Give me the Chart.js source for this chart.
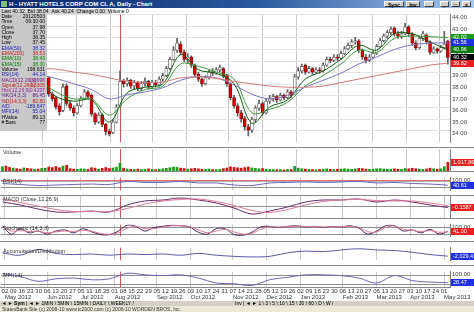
<!DOCTYPE html>
<html>
<head>
<meta charset="utf-8">
<script src="https://cdn.jsdelivr.net/npm/chart.js@4.4.0/dist/chart.umd.min.js"></script>
<style>
html, body { margin:0; padding:0; width:474px; height:312px; overflow:hidden; background:#fff; font-family:"Liberation Sans", Arial, sans-serif; }
#titlebar { position:absolute; left:0; top:0; width:474px; height:8px; background:linear-gradient(to right,#0a246a,#2a5aa0 55%,#a6caf0); color:#fff; font:bold 6px "Liberation Sans"; line-height:8px; }
#titlebar .ico { position:absolute; left:1px; top:1px; width:6px; height:6px; background:#7fbf7f; }
#titlebar .txt { position:absolute; left:9px; top:0; }
#titlebar .btn { position:absolute; top:1px; height:6px; background:#d4d0c8; color:#000; font:bold 5px "Liberation Sans"; line-height:6px; text-align:center; border:1px solid #fff; border-right-color:#404040; border-bottom-color:#404040; box-sizing:border-box; }
.pnl { position:absolute; left:0; width:474px; }
.pnl canvas { display:block; }
.sep { position:absolute; left:0; width:474px; height:1px; background:#888; }
#hdr { position:absolute; left:0; top:9px; width:112px; height:5px; background:#d0d0d0; font:5px "Liberation Sans"; line-height:5px; color:#000; white-space:nowrap; }
#info { position:absolute; left:0; top:14px; width:47px; height:117px; background:#c8c8c8; font:5px "Liberation Sans"; color:#000; }
#info div { height:5.3px; line-height:5.3px; position:relative; white-space:nowrap; }
#info span { position:absolute; right:2px; }
#tabs { position:absolute; left:0; top:301px; width:474px; height:5px; background:#d4d0c8; font:5px "Liberation Sans"; line-height:5px; color:#000; white-space:nowrap; }
#status { position:absolute; left:0; top:306px; width:474px; height:6px; background:#ece9d8; font:5px "Liberation Sans"; line-height:6px; color:#333; padding-left:2px; }
</style>
</head>
<body>
<div id="titlebar"><div class="ico"></div><div class="txt">H - HYATT HOTELS CORP COM CL A, Daily - Chart</div>
  <div class="btn" style="left:384px;width:20px">Sync</div>
  <div class="btn" style="left:406px;width:14px">Inv</div>
  <div class="btn" style="left:424px;width:10px"></div>
  <div class="btn" style="left:440px;width:9px">_</div>
  <div class="btn" style="left:451px;width:9px">□</div>
  <div class="btn" style="left:462px;width:9px">×</div>
</div>

<div class="pnl" style="top:9px"><canvas id="cMain" width="474" height="139"></canvas></div>
<div class="pnl" style="top:148px"><canvas id="cVol" width="474" height="24"></canvas></div>
<div class="pnl" style="top:172px"><canvas id="cRsi" width="474" height="24"></canvas></div>
<div class="pnl" style="top:196px"><canvas id="cMacd" width="474" height="23"></canvas></div>
<div class="pnl" style="top:219px"><canvas id="cStoch" width="474" height="23"></canvas></div>
<div class="pnl" style="top:242px"><canvas id="cAd" width="474" height="24"></canvas></div>
<div class="pnl" style="top:266px"><canvas id="cMfi" width="474" height="35"></canvas></div>

<div class="sep" style="top:147px"></div>
<div class="sep" style="top:171px"></div>
<div class="sep" style="top:195px"></div>
<div class="sep" style="top:218px"></div>
<div class="sep" style="top:241px"></div>
<div class="sep" style="top:265px"></div>
<div class="sep" style="top:287px;width:450px"></div>

<div id="hdr">&nbsp;Last 40.32 &nbsp;Bid 38.04 &nbsp;Ask 40.24 &nbsp;Change 0.00 &nbsp;Volume 0</div>
<div id="info">
  <div>&nbsp;Date<span>20120503</span></div>
  <div>&nbsp;Time<span>09:30:00</span></div>
  <div>&nbsp;Open<span>37.98</span></div>
  <div>&nbsp;Close<span>37.70</span></div>
  <div>&nbsp;High<span>38.35</span></div>
  <div>&nbsp;Low<span>37.45</span></div>
  <div style="color:#2020c0">&nbsp;EMA(50)<span>38.32</span></div>
  <div style="color:#c02020">&nbsp;EMA(200)<span>38.53</span></div>
  <div style="color:#008000">&nbsp;EMA(10)<span>38.43</span></div>
  <div style="color:#008000">&nbsp;EMA(15)<span>38.30</span></div>
  <div>&nbsp;Volume<span>198,631</span></div>
  <div style="color:#2020c0">&nbsp;RSI(14)<span>44.14</span></div>
  <div style="color:#802080">&nbsp;MACD(12,26,9)<span>0.0996</span></div>
  <div style="color:#c02020">&nbsp;Signal(12,26,9)<span>-0.3305</span></div>
  <div style="color:#a020a0">&nbsp;Hist(12,26,9)<span>-0.4297</span></div>
  <div style="color:#602080">&nbsp;%K(14,3,3)<span>86.45</span></div>
  <div style="color:#c02020">&nbsp;%D(14,3,3)<span>82.80</span></div>
  <div style="color:#2020c0">&nbsp;A/D<span>-189,647</span></div>
  <div style="color:#2020c0">&nbsp;MFI(14)<span>55.04</span></div>
  <div>&nbsp;HValue<span>89.13</span></div>
  <div>&nbsp;# Bars<span>77</span></div>
</div>

<div id="tabs">&nbsp;◄ ► <b>Sym</b> | ◄ ► 1MIN \ 5MIN \ 15MIN \ DAILY \ WEEKLY /
  <span style="position:absolute;left:235px">Inv | ◄ ► 1 \ 3 \ 5 \ 10 \ 15 \ 30 \ 60 \ D \ W /</span></div>
<div id="status">StatesBank Site (c) 2008-10 www.tc2000.com (c) 2006-10 WORDEN BROS, Inc.</div>

<script>
// daily bars (2 sessions per bar), May 2012 - May 2013
const openP = [38.75,39.05,38.75,38.45,38.85,38.55,38.25,38.55,38.15,37.95,38.35,38.05,38.35,
  38.55,37.15,36.85,36.15,35.75,37.85,36.35,35.95,35.55,36.15,36.75,37.35,37.05,
  35.45,34.75,35.35,34.55,33.95,33.85,34.75,36.15,38.25,38.05,38.35,37.85,38.15,
  37.65,38.05,38.25,37.75,38.15,37.95,38.45,38.75,39.35,40.15,40.95,41.45,40.75,
  40.15,40.35,39.65,38.85,38.45,38.05,38.55,39.05,38.95,39.25,39.35,38.75,38.05,
  36.85,36.15,35.55,35.05,34.35,34.05,34.95,35.95,36.35,35.55,36.55,36.75,36.95,
  36.65,37.05,36.85,37.35,37.15,38.65,39.15,39.65,39.05,39.35,39.05,39.25,39.15,
  39.65,40.15,40.05,40.35,40.25,40.65,41.05,41.35,41.65,41.75,40.95,40.35,40.05,
  40.35,40.65,41.25,41.75,42.15,42.45,42.85,42.35,42.15,42.35,42.95,42.35,41.55,
  41.15,41.95,42.25,41.65,40.75,41.05,40.85,41.15,41.73];
const closeP = [39.05,38.75,38.45,38.85,38.55,38.25,38.55,38.15,37.95,38.35,38.05,38.35,38.65,
  37.15,36.75,36.05,35.65,37.75,36.35,35.95,35.55,36.15,36.75,37.35,36.95,35.45,
  34.75,35.35,34.55,33.95,33.75,34.75,36.05,38.25,38.05,38.35,37.85,38.15,37.65,
  38.05,38.25,37.75,38.15,37.95,38.45,38.75,39.35,40.15,40.95,41.55,40.75,40.15,
  40.35,39.65,38.85,38.45,38.05,38.55,39.05,38.95,39.25,39.45,38.75,38.05,36.85,
  36.15,35.55,35.05,34.35,34.05,34.95,35.95,36.35,35.55,36.55,36.75,36.95,36.65,
  37.05,36.85,37.35,37.05,38.65,39.15,39.55,39.05,39.35,39.05,39.25,39.15,39.65,
  40.15,40.05,40.35,40.25,40.65,41.05,41.35,41.65,41.75,40.95,40.35,40.05,40.35,
  40.65,41.25,41.75,42.15,42.45,42.75,42.35,42.15,42.35,42.95,42.35,41.55,41.15,
  41.95,42.35,41.65,40.75,41.05,40.85,41.15,41.45,40.32];
const highP = [39.25,39.25,38.85,39.05,38.95,38.65,38.75,38.65,38.35,38.55,38.45,38.65,38.85,
  38.65,37.35,36.95,36.35,38.05,38.05,36.55,36.15,36.35,36.95,37.55,37.45,37.15,
  35.55,35.55,35.45,34.65,34.15,34.95,36.25,39.15,38.45,38.55,38.45,38.35,38.25,
  38.25,38.55,38.35,38.35,38.35,38.65,38.95,39.55,40.35,41.25,41.95,41.65,40.95,
  40.65,40.45,39.75,39.05,38.55,38.75,39.25,39.35,39.45,39.65,39.45,38.85,38.15,
  37.05,36.35,35.75,35.25,34.55,35.15,36.15,36.65,36.45,36.75,37.05,37.15,37.05,
  37.25,37.15,37.55,37.45,38.85,39.45,39.75,39.75,39.55,39.45,39.45,39.45,39.85,
  40.35,40.35,40.55,40.55,40.85,41.25,41.55,41.85,42.05,41.85,41.05,40.55,40.55,
  40.85,41.45,41.95,42.35,42.65,42.95,42.95,42.55,42.55,43.25,43.05,42.45,41.75,
  42.15,42.55,42.35,41.75,41.25,41.15,41.35,42.55,41.80];
const lowP = [38.55,38.55,38.25,38.35,38.35,38.05,38.15,37.95,37.75,37.85,37.85,37.95,38.15,
  36.95,36.55,35.85,35.35,35.65,36.15,35.75,35.25,35.45,36.05,36.65,36.75,35.25,
  34.55,34.65,34.35,33.65,33.55,33.75,34.65,36.05,37.75,37.85,37.65,37.55,37.45,
  37.45,37.85,37.55,37.65,37.75,37.85,38.25,38.65,39.25,40.05,40.75,40.55,39.95,
  39.85,39.45,38.65,38.25,37.85,37.95,38.45,38.75,38.85,39.05,38.55,37.85,36.65,
  35.95,35.25,34.75,34.05,33.55,33.85,34.75,35.75,35.35,35.45,36.35,36.55,36.45,
  36.55,36.65,36.75,36.85,37.15,38.45,38.95,38.85,38.95,38.85,38.95,38.95,39.05,
  39.55,39.85,39.95,40.05,40.15,40.55,40.95,41.15,41.45,40.75,40.15,39.85,39.95,
  40.25,40.55,41.15,41.65,41.95,42.25,42.15,41.95,41.95,42.25,42.15,41.35,40.95,
  41.05,41.75,41.45,40.55,40.65,40.65,40.75,41.05,39.73];
const volumeM = [0.55,0.62,0.48,0.40,0.35,0.30,0.42,0.38,0.33,0.29,0.31,0.36,0.40,
  0.52,0.46,0.58,0.44,0.62,0.70,0.35,0.30,0.28,0.33,0.31,0.27,0.45,
  0.41,0.30,0.38,0.47,0.36,0.42,0.50,0.92,0.40,0.31,0.28,0.26,0.30,
  0.25,0.29,0.33,0.27,0.24,0.30,0.34,0.38,0.45,0.52,0.48,0.40,0.36,
  0.30,0.34,0.38,0.33,0.29,0.27,0.31,0.26,0.24,0.28,0.35,0.42,0.55,
  0.48,0.44,0.40,0.46,0.52,0.43,0.38,0.33,0.36,0.30,0.27,0.25,0.24,
  0.26,0.22,0.28,0.25,0.58,0.40,0.34,0.30,0.28,0.26,0.24,0.27,0.30,
  0.33,0.28,0.26,0.29,0.31,0.34,0.30,0.28,0.32,0.38,0.36,0.30,0.27,
  0.29,0.33,0.35,0.31,0.28,0.30,0.34,0.29,0.27,0.36,0.33,0.39,0.35,
  0.30,0.28,0.32,0.40,0.34,0.30,0.33,0.55,1.017862];

// moving averages, one point every 5 bars
const maStep = 5;
const ema200 = [39.39,39.37,39.35,39.31,39.05,38.85,38.55,38.25,38.15,38.2,38.55,38.65,38.51,
  38.25,38.05,37.85,37.75,37.75,37.85,38.15,38.45,38.75,39.05,39.35,39.65,39.82];
const ema50 = [39.15,39.05,38.85,38.5,38.05,37.55,36.75,37.1,37.35,37.7,38.35,38.65,38.55,
  37.95,37.15,36.75,37.05,37.75,38.35,38.95,39.75,40.35,41.0,41.4,41.55,41.56];
const emaFast = [38.55,38.55,38.25,36.95,36.55,36.65,34.75,37.25,37.75,38.05,40.55,39.25,38.95,
  38.05,34.65,36.05,36.65,38.45,39.15,40.15,41.35,40.95,42.35,42.35,41.65,40.96];
const emaSlow = [38.55,38.55,38.35,37.35,36.75,36.75,35.35,36.75,37.55,37.85,39.75,39.55,39.05,
  38.45,35.55,35.85,36.45,37.85,38.75,39.75,40.95,40.75,41.95,42.15,42.1,42.02];

// indicators
const indStep = 5;
const rsi = [54,46,38,42,46,50,46,70,62,62,70,58,58,42,38,58,62,66,62,66,70,58,62,54,50,40.61];
const macd = [0.4,0.1,-0.3,-0.6,-0.6,-0.5,-0.6,0.1,0.5,0.6,0.8,0.6,0.3,-0.2,-0.8,-0.5,-0.1,0.4,
  0.6,0.6,0.7,0.4,0.6,0.4,0.1,-0.1587];
const macdSignal = [0.7,0.35,0.0,-0.35,-0.55,-0.55,-0.55,-0.25,0.2,0.5,0.65,0.7,0.45,0.05,-0.45,
  -0.65,-0.35,0.1,0.45,0.6,0.65,0.55,0.5,0.5,0.3,0.02];
const stochStep = 2.5;
const stochK = [90,20,65,30,45,20,45,55,30,65,40,15,15,45,95,85,45,75,85,95,90,80,35,20,65,
  65,15,10,35,80,85,75,85,90,80,85,75,85,80,90,70,20,45,90,90,45,55,30,60,20,41];
const stochD = [85,45,50,40,45,30,38,45,42,50,45,25,18,30,70,85,65,65,78,90,90,83,55,32,45,
  60,38,20,25,60,80,80,82,86,84,83,80,82,82,85,78,40,38,75,88,60,52,40,50,35,38];
const accDistM = [2.6,-0.7,7.5,1.8,0.2,1.0,-0.7,1.0,0.2,1.0,-0.7,1.8,-0.7,-2.3,-3.1,-2.3,2.6,
  5.1,4.3,6.7,8.4,6.7,5.9,3.4,0.2,-2.029411];
const mfi = [89,68,37,53,58,47,53,89,79,74,79,58,26,21,10,47,63,79,79,74,58,26,74,42,32,28.47];

// x axis
const weekDays = ['02','09','16','23','30','06','13','20','27','05','11','18','25',
  '01','08','15','22','29','05','12','19','26','03','10','17','24','31',
  '07','14','21','28','05','12','19','26','02','09','16','23','30',
  '06','13','20','27','06','13','20','27','03','10','17','24','01'];
const monthNames = ['May 2012','Jun 2012','Jul 2012','Aug 2012','Sep 2012','Oct 2012','Nov 2012',
  'Dec 2012','Jan 2013','Feb 2013','Mar 2013','Apr 2013','May 2013'];
const monthStartWeeks = [0,5,9,13,18,22,27,31,35,40,44,48,52];
const cursorBar = 33;

Chart.defaults.font.family = '"Liberation Sans", Arial, sans-serif';
Chart.defaults.animation = false;

const weekPos = w => 0.7 + 2.37 * w;
const fmt2 = v => Number(v).toFixed(2);

function xScale(showLabels) {
  const sc = {
    type: 'linear', min: -0.4, max: 125.6, offset: false,
    afterBuildTicks: s => { s.ticks = weekDays.map((d, i) => ({ value: weekPos(i) })); },
    grid: { color: c => monthStartWeeks.includes(c.index) ? '#c8c8c8' : 'rgba(0,0,0,0)', drawTicks: false },
    border: { display: false },
    ticks: { display: showLabels, autoSkip: false, maxRotation: 0, padding: 1, color: '#333',
      font: { size: 6, lineHeight: 1 }, callback: (v, i) => weekDays[i] }
  };
  if (showLabels) sc.afterFit = s => { s.height = 7; };
  return sc;
}

function yScale(min, max, tickVals, fmt, gridColor) {
  return {
    position: 'right', min, max,
    afterFit: s => { s.width = 24; },
    afterBuildTicks: s => { s.ticks = tickVals.map(v => ({ value: v })); },
    grid: { display: !!gridColor, color: gridColor || 'rgba(0,0,0,0)', drawTicks: false },
    border: { display: true, color: '#808080' },
    ticks: { padding: 2, labelOffset: 3, color: '#444', font: { size: 6 }, callback: v => fmt(v) }
  };
}

const deco = {
  id: 'deco',
  beforeDatasetsDraw(chart, args, o) {
    const { ctx, chartArea: a, scales } = chart;
    ctx.save();
    ctx.lineWidth = 1;
    (o.hlines || []).forEach(h => {
      const y = Math.round(scales.y.getPixelForValue(h.v)) + 0.5;
      ctx.strokeStyle = h.c;
      ctx.beginPath(); ctx.moveTo(a.left, y); ctx.lineTo(a.right, y); ctx.stroke();
    });
    const cx = Math.round(scales.x.getPixelForValue(cursorBar)) + 0.5;
    ctx.strokeStyle = 'rgba(200,60,60,0.85)';
    ctx.beginPath(); ctx.moveTo(cx, a.top); ctx.lineTo(cx, a.bottom); ctx.stroke();
    ctx.restore();
  },
  afterDraw(chart, args, o) {
    const { ctx, chartArea: a, scales } = chart;
    ctx.save();
    if (o.title) {
      ctx.font = '5.5px "Liberation Sans"';
      ctx.fillStyle = '#333';
      ctx.textBaseline = 'top';
      ctx.fillText(o.title, a.left + 2, a.top + 1);
    }
    (o.badges || []).forEach(b => {
      const y = scales.y.getPixelForValue(b.v);
      ctx.fillStyle = b.bg;
      ctx.fillRect(a.right + 1, Math.round(y - 3.5), 23, 7);
      ctx.fillStyle = b.fg || '#fff';
      ctx.font = '5.5px "Liberation Sans"';
      ctx.textBaseline = 'middle';
      ctx.fillText(b.text, a.right + 3, Math.round(y - 3.5) + 3.7);
    });
    ctx.restore();
  }
};

function baseOptions(pad) {
  return {
    responsive: false, maintainAspectRatio: false,
    layout: { padding: pad },
    plugins: { legend: { display: false }, tooltip: { enabled: false } },
    events: []
  };
}

const last = arr => arr[arr.length - 1];
const pts = (arr, step) => arr.map((v, k) => ({ x: Math.min(k * step, 125), y: v }));
const lineDs = (arr, step, color) => ({ type: 'line', data: pts(arr, step), borderColor: color,
  borderWidth: 1, pointRadius: 0, tension: 0.35, order: 0 });
const isUp = i => closeP[i] >= openP[i];
const barIdx = closeP.map((c, i) => i);

// price panel
const mainOpt = baseOptions({ top: 1, bottom: 1, left: 1, right: 0 });
mainOpt.scales = {
  x: xScale(false),
  y: yScale(33, 44, [34,35,36,37,38,39,40,41,42,43,44], fmt2, '#e4e4e4')
};
mainOpt.plugins.deco = { badges: [
  { v: last(emaSlow), text: fmt2(last(emaSlow)), bg: '#1f9a1f' },
  { v: last(ema50), text: fmt2(last(ema50)), bg: '#2030e0' },
  { v: last(emaFast), text: fmt2(last(emaFast)), bg: '#0a7a0a' },
  { v: last(closeP), text: fmt2(last(closeP)), bg: '#000' },
  { v: last(ema200), text: fmt2(last(ema200)), bg: '#e82020' }
] };
new Chart(document.getElementById('cMain'), {
  type: 'bar',
  data: { datasets: [
    lineDs(ema200, maStep, '#d47878'),
    lineDs(ema50, maStep, '#7a74c8'),
    lineDs(emaSlow, maStep, '#3a9a3a'),
    lineDs(emaFast, maStep, '#0b5e0b'),
    { type: 'bar', data: barIdx.map(i => ({ x: i, y: [openP[i], closeP[i]] })), grouped: false,
      barThickness: 3, borderSkipped: false, borderWidth: 0.7, order: 1,
      backgroundColor: barIdx.map(i => isUp(i) ? '#ffffff' : '#d40000'),
      borderColor: barIdx.map(i => isUp(i) ? '#505050' : '#8a0000') },
    { type: 'bar', data: barIdx.map(i => ({ x: i, y: [lowP[i], highP[i]] })), grouped: false,
      barThickness: 1, backgroundColor: '#606060', order: 2 }
  ] },
  options: mainOpt,
  plugins: [deco]
});

// volume
const volOpt = baseOptions({ top: 1, bottom: 0, left: 1, right: 0 });
volOpt.scales = { x: xScale(false), y: yScale(0, 2.4, [], v => '') };
volOpt.plugins.deco = { title: 'Volume', badges: [
  { v: last(volumeM), text: Math.round(last(volumeM) * 1e6).toLocaleString('en-US'), bg: '#e82020' }] };
new Chart(document.getElementById('cVol'), {
  type: 'bar',
  data: { datasets: [{ data: barIdx.map(i => ({ x: i, y: volumeM[i] })), barThickness: 2,
    backgroundColor: barIdx.map(i => isUp(i) ? '#10a010' : '#d81010') }] },
  options: volOpt, plugins: [deco]
});

// RSI
const rsiOpt = baseOptions({ top: 0, bottom: 0, left: 1, right: 0 });
rsiOpt.scales = { x: xScale(false), y: yScale(0, 100, [100], fmt2) };
rsiOpt.plugins.deco = { title: 'RSI(14)', hlines: [{ v: 80, c: '#e07070' }, { v: 70, c: '#b0b0b0' }, { v: 30, c: '#909090' }],
  badges: [{ v: last(rsi), text: fmt2(last(rsi)), bg: '#2030e0' }] };
new Chart(document.getElementById('cRsi'), {
  type: 'line', data: { datasets: [lineDs(rsi, indStep, '#6a66b8')] }, options: rsiOpt, plugins: [deco]
});

// MACD
const macdOpt = baseOptions({ top: 0, bottom: 0, left: 1, right: 0 });
macdOpt.scales = { x: xScale(false), y: yScale(-1.3, 1.0, [], fmt2) };
macdOpt.plugins.deco = { title: 'MACD (Close,12,26,9)', hlines: [{ v: 0, c: '#909090' }],
  badges: [{ v: last(macd), text: last(macd).toFixed(4), bg: '#e82020' }] };
new Chart(document.getElementById('cMacd'), {
  type: 'line', data: { datasets: [lineDs(macdSignal, indStep, '#e07a9a'), lineDs(macd, indStep, '#6a2a6a')] },
  options: macdOpt, plugins: [deco]
});

// Stochastic
const stOpt = baseOptions({ top: 2, bottom: 1, left: 1, right: 0 });
stOpt.scales = { x: xScale(false), y: yScale(0, 100, [100], fmt2) };
stOpt.plugins.deco = { title: 'Stochastic (14,3,3)', hlines: [{ v: 80, c: '#909090' }, { v: 20, c: '#909090' }],
  badges: [{ v: last(stochK), text: fmt2(last(stochK)), bg: '#e82020' }] };
new Chart(document.getElementById('cStoch'), {
  type: 'line', data: { datasets: [lineDs(stochD, stochStep, '#e07a9a'), lineDs(stochK, stochStep, '#4a2a5a')] },
  options: stOpt, plugins: [deco]
});

// Accumulation / Distribution
const adOpt = baseOptions({ top: 1, bottom: 1, left: 1, right: 0 });
adOpt.scales = { x: xScale(false), y: yScale(-8, 10, [0], v => '0') };
adOpt.plugins.deco = { title: 'Accumulation/Distribution',
  badges: [{ v: last(accDistM), text: Math.round(last(accDistM) * 1e6).toLocaleString('en-US'), bg: '#2030e0' }] };
new Chart(document.getElementById('cAd'), {
  type: 'line', data: { datasets: [lineDs(accDistM, indStep, '#5a5aa8')] }, options: adOpt, plugins: [deco]
});

// MFI + date axis
const mfiOpt = baseOptions({ top: 2, bottom: 0, left: 1, right: 0 });
mfiOpt.scales = {
  x: xScale(true),
  xm: { type: 'linear', position: 'bottom', min: -0.4, max: 125.6,
    afterBuildTicks: s => { s.ticks = monthStartWeeks.map(w => ({ value: weekPos(w) })); },
    afterFit: s => { s.height = 7; },
    grid: { display: false, drawTicks: false }, border: { display: false },
    ticks: { align: 'start', autoSkip: false, maxRotation: 0, padding: 0, color: '#333',
      font: { size: 6, lineHeight: 1 }, callback: (v, i) => monthNames[i] } },
  y: yScale(0, 100, [100, 50], fmt2)
};
mfiOpt.plugins.deco = { title: 'MFI(14)', hlines: [{ v: 80, c: '#909090' }, { v: 20, c: '#909090' }],
  badges: [{ v: last(mfi), text: fmt2(last(mfi)), bg: '#2030e0' }] };
new Chart(document.getElementById('cMfi'), {
  type: 'line', data: { datasets: [lineDs(mfi, indStep, '#6a66b8')] }, options: mfiOpt, plugins: [deco]
});
</script>
</body>
</html>
